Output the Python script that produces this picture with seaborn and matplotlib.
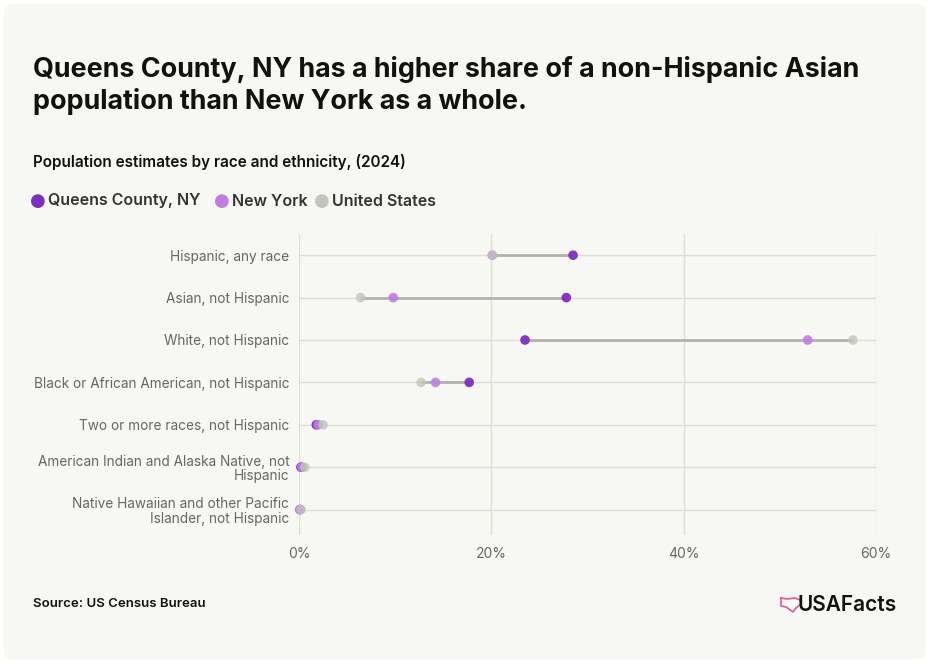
import pandas as pd
import matplotlib.pyplot as plt
import seaborn as sns
from matplotlib.patches import FancyBboxPatch

# values (percent of population, 2024)
categories = [
    "Hispanic, any race",
    "Asian, not Hispanic",
    "White, not Hispanic",
    "Black or African American, not Hispanic",
    "Two or more races, not Hispanic",
    "American Indian and Alaska Native, not\nHispanic",
    "Native Hawaiian and other Pacific\nIslander, not Hispanic",
]
queens = [28.5, 27.8, 23.5, 17.7, 1.8, 0.2, 0.1]
new_york = [20.1, 9.8, 52.9, 14.2, 2.0, 0.3, 0.1]
united_states = [20.1, 6.4, 57.6, 12.7, 2.5, 0.6, 0.2]

series_names = ["Queens County, NY", "New York", "United States"]
colors = ["#7d2fc3", "#c07ee0", "#c4c4bf"]
xticks = [0, 20, 40, 60]

bg = "#f7f7f3"
sns.set_theme(style="white")
plt.rcParams["font.family"] = ["Inter", "DejaVu Sans"]

# long-form table for seaborn
rows = []
for name, vals in zip(series_names, [queens, new_york, united_states]):
    for cat, v in zip(categories, vals):
        rows.append({"category": cat, "series": name, "value": v})
df = pd.DataFrame(rows)

fig = plt.figure(figsize=(9.29, 6.63), dpi=100)
fig.patch.set_facecolor("white")
fig.patches.append(FancyBboxPatch((0.004, 0.005), 0.992, 0.99, boxstyle="round,pad=0,rounding_size=0.012",
                                  transform=fig.transFigure, facecolor=bg, edgecolor="none", zorder=-10))

ax = fig.add_axes([299 / 929, 1 - 535 / 663, 577 / 929, 301 / 663])
ax.set_facecolor(bg)

# connecting line from min to max in each row
span = df.groupby("category", sort=False)["value"].agg(["min", "max"]).reindex(categories)
ax.hlines(y=range(len(categories)), xmin=span["min"], xmax=span["max"], color="#b3b3ae", lw=2, zorder=2)

# Queens first, US last (semi transparent on top, like the original)
alphas = {"Queens County, NY": 0.95, "New York": 0.9, "United States": 0.8}
for name in series_names:
    sub = df[df["series"] == name]
    sns.scatterplot(data=sub, x="value", y="category", color=colors[series_names.index(name)],
                    s=48, edgecolor="none", ax=ax, zorder=3, clip_on=False, legend=False,
                    alpha=alphas[name])

ax.set_xlim(0, 60)
ax.set_ylim(6.6, -0.5)
ax.set_xticks(xticks)
ax.set_xticklabels([f"{t}%" for t in xticks])
ax.set_xlabel("")
ax.set_ylabel("")
ax.grid(True, color="#deded9", lw=1)
ax.set_axisbelow(True)
for s in ax.spines.values():
    s.set_visible(False)
ax.tick_params(axis="x", labelsize=10, colors="#666666", length=0, pad=9)
ax.tick_params(axis="y", labelsize=9.8, colors="#666666", length=0, pad=7)
for lbl in ax.get_yticklabels():
    lbl.set_linespacing(1.05)

# title, subtitle
fig.text(33 / 929, 1 - 56 / 663, "Queens County, NY has a higher share of a non-Hispanic Asian\npopulation than New York as a whole.",
         fontsize=19.4, fontweight="bold", color="#111111", va="top", ha="left", linespacing=1.22)
fig.text(33 / 929, 1 - 162 / 663, "Population estimates by race and ethnicity, (2024)",
         fontsize=11, fontweight="semibold", color="#111111", va="center", ha="left")

# legend row
for name, c, cx in zip(series_names, colors, [38, 222, 322]):
    fig.text(cx / 929, 1 - 201 / 663, "\u25CF", color=c, fontsize=13, ha="center", va="center",
             family=["DejaVu Sans"])
    fig.text((cx + 10) / 929, 1 - 201 / 663, name, fontsize=11.5, fontweight="semibold", color="#333333",
             ha="left", va="center")

# footer
fig.text(33 / 929, 1 - 604 / 663, "Source: US Census Bureau", fontsize=9.5, fontweight="semibold",
         color="#111111", ha="left", va="center")
fig.text(897 / 929, 1 - 605 / 663, "USAFacts", fontsize=15, fontweight="semibold", color="#111111",
         ha="right", va="center")
# small pink map outline for the logo
ix = [781, 787, 795, 800, 801, 796, 793, 789, 786, 781, 781]
iy = [598, 599, 598, 600, 604, 608, 612, 609, 607, 606, 598]
fig.add_artist(plt.Line2D([x / 929 for x in ix], [1 - y / 663 for y in iy], color="#e8559b", lw=1.2,
                          transform=fig.transFigure))

fig.savefig("out.png", dpi=100, facecolor=fig.get_facecolor())
